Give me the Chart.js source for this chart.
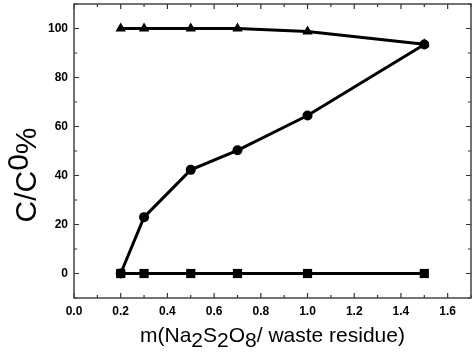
<!DOCTYPE html>
<html>
<head>
<meta charset="utf-8">
<script src="https://cdn.jsdelivr.net/npm/chart.js@4/dist/chart.umd.min.js"></script>
<style>
  html, body { margin: 0; padding: 0; background: #fff; }
  #wrap { width: 474px; height: 354px; }
</style>
</head>
<body>
<div id="wrap"><canvas id="c" width="474" height="354"></canvas></div>
<script>
// data
var ratios = [0.2, 0.3, 0.5, 0.7, 1.0, 1.5];
var squareVals = [0, 0, 0, 0, 0, 0];
var circleVals = [0, 23, 42.3, 50.3, 64.5, 93.5];
var triangleVals = [100, 100, 100, 100, 98.8, 93.6];
var xTicks = [0, 0.2, 0.4, 0.6, 0.8, 1.0, 1.2, 1.4, 1.6];
var yTicks = [0, 20, 40, 60, 80, 100];

var FONT = "'Liberation Sans', Arial, sans-serif";

function pts(ys) {
  var out = [];
  for (var i = 0; i < ratios.length; i++) out.push({ x: ratios[i], y: ys[i] });
  return out;
}

function series(ys, style, r) {
  return {
    data: pts(ys),
    borderColor: "#000",
    backgroundColor: "#000",
    borderWidth: 3,
    pointStyle: style,
    pointRadius: r,
    pointBorderWidth: 0,
    tension: 0
  };
}

// inward ticks on all four sides + frame + axis titles with sub/superscripts
var decor = {
  id: "decor",
  afterDraw: function (chart) {
    var ctx = chart.ctx, a = chart.chartArea;
    var sx = chart.scales.x, sy = chart.scales.y;
    ctx.save();
    ctx.strokeStyle = "#333";
    ctx.lineWidth = 1.2;
    var v, p, len;
    for (v = 0; v <= 17; v++) {
      p = sx.getPixelForValue(v / 10);
      len = v % 2 === 0 ? 5 : 3;
      ctx.beginPath();
      ctx.moveTo(p, a.bottom); ctx.lineTo(p, a.bottom - len);
      ctx.moveTo(p, a.top); ctx.lineTo(p, a.top + len);
      ctx.stroke();
    }
    for (v = -10; v <= 110; v += 10) {
      p = sy.getPixelForValue(v);
      len = v % 20 === 0 ? 5 : 3;
      ctx.beginPath();
      ctx.moveTo(a.left, p); ctx.lineTo(a.left + len, p);
      ctx.moveTo(a.right, p); ctx.lineTo(a.right - len, p);
      ctx.stroke();
    }
    ctx.strokeStyle = "#444";
    ctx.lineWidth = 1.5;
    ctx.strokeRect(a.left, a.top, a.right - a.left, a.bottom - a.top);

    // x title: m(Na2S2O8/ waste residue)
    ctx.fillStyle = "#000";
    ctx.textBaseline = "alphabetic";
    ctx.textAlign = "left";
    var parts = [["m(Na", 0], ["2", 1], ["S", 0], ["2", 1], ["O", 0], ["8", 1], ["/ waste residue)", 0]];
    ctx.font = "21px " + FONT;
    var w = 0, i;
    for (i = 0; i < parts.length; i++) w += ctx.measureText(parts[i][0]).width;
    var x = (a.left + a.right) / 2 - w / 2, base = 342;
    for (i = 0; i < parts.length; i++) {
      ctx.fillText(parts[i][0], x, base + (parts[i][1] ? 5 : 0));
      x += ctx.measureText(parts[i][0]).width;
    }

    // y title: C/C0%
    ctx.translate(36, (a.top + a.bottom) / 2 + 24);
    ctx.rotate(-Math.PI / 2);
    ctx.font = "30px " + FONT;
    var yparts = [["C/C", 0], ["0", 1], ["%", 0]];
    w = 0;
    for (i = 0; i < yparts.length; i++) w += ctx.measureText(yparts[i][0]).width;
    x = -w / 2;
    for (i = 0; i < yparts.length; i++) {
      ctx.fillText(yparts[i][0], x, yparts[i][1] ? -8 : 0);
      x += ctx.measureText(yparts[i][0]).width;
    }
    ctx.restore();
  }
};

function setTicks(list) {
  return function (s) { s.ticks = list.map(function (v) { return { value: v }; }); };
}

new Chart(document.getElementById("c"), {
  type: "line",
  data: {
    datasets: [
      series(squareVals, "rect", 6.5),
      series(circleVals, "circle", 5),
      series(triangleVals, "triangle", 6)
    ]
  },
  options: {
    responsive: false,
    animation: false,
    layout: { autoPadding: false, padding: { left: 0, right: 3, top: 4, bottom: 0 } },
    plugins: { legend: { display: false }, tooltip: { enabled: false } },
    scales: {
      x: {
        type: "linear",
        min: 0, max: 1.7,
        grid: { display: false, drawTicks: false },
        border: { display: false },
        afterBuildTicks: setTicks(xTicks),
        ticks: {
          padding: 6,
          color: "#000",
          font: { family: FONT, size: 12, weight: "bold" },
          callback: function (v) { return v.toFixed(1); }
        },
        afterFit: function (s) { s.height = 56; s.paddingRight = 0; s.paddingLeft = 0; }
      },
      y: {
        min: -10, max: 110,
        grid: { display: false, drawTicks: false },
        border: { display: false },
        afterBuildTicks: setTicks(yTicks),
        ticks: {
          padding: 6,
          color: "#000",
          font: { family: FONT, size: 12, weight: "bold" }
        },
        afterFit: function (s) { s.width = 74; s.paddingTop = 0; s.paddingBottom = 0; }
      }
    }
  },
  plugins: [decor]
});
</script>
</body>
</html>
